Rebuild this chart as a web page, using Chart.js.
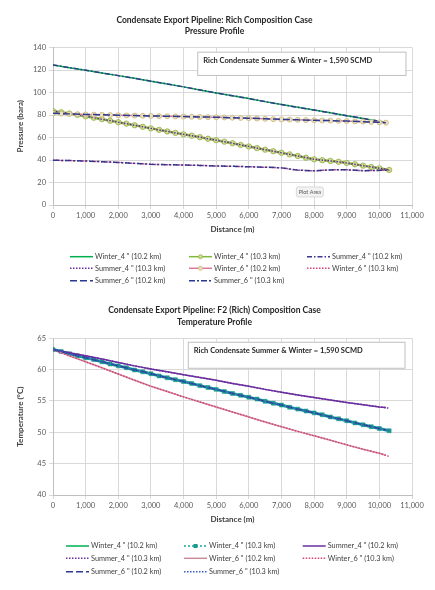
<!DOCTYPE html>
<html>
<head>
<meta charset="utf-8">
<script src="https://cdn.jsdelivr.net/npm/chart.js@4.4.1/dist/chart.umd.min.js"></script>
<style>
  html, body { margin: 0; padding: 0; background: #fff; }
  .box { position: relative; width: 435px; height: 295px; }
</style>
</head>
<body>
<div class="box"><canvas id="pressureChart"></canvas></div>
<div class="box"><canvas id="tempChart"></canvas></div>
<script>
// distances (m)
const d102 = [0, 500, 1000, 1500, 2000, 2500, 3000, 3500, 4000, 4500, 5000, 5500, 6000, 6500, 7000, 7500, 8000, 8500, 9000, 9500, 10000, 10200];
const d103 = [0, 500, 1000, 1500, 2000, 2500, 3000, 3500, 4000, 4500, 5000, 5500, 6000, 6500, 7000, 7500, 8000, 8500, 9000, 9500, 10000, 10300];
const d102f = [0, 250, 500, 750, 1000, 1250, 1500, 1750, 2000, 2250, 2500, 2750, 3000, 3250, 3500, 3750, 4000, 4250, 4500, 4750, 5000,
  5250, 5500, 5750, 6000, 6250, 6500, 6750, 7000, 7250, 7500, 7750, 8000, 8250, 8500, 8750, 9000, 9250, 9500, 9750, 10000, 10200];
const d103f = [0, 250, 500, 750, 1000, 1250, 1500, 1750, 2000, 2250, 2500, 2750, 3000, 3250, 3500, 3750, 4000, 4250, 4500, 4750, 5000,
  5250, 5500, 5750, 6000, 6250, 6500, 6750, 7000, 7250, 7500, 7750, 8000, 8250, 8500, 8750, 9000, 9250, 9500, 9750, 10000, 10300];

const seriesNames = ['Winter_4 " (10.2 km)', 'Winter_4 " (10.3 km)', 'Summer_4 " (10.2 km)',
  'Summer_4 " (10.3 km)', 'Winter_6 " (10.2 km)', 'Winter_6 " (10.3 km)',
  'Summer_6 " (10.2 km)', 'Summer_6 " (10.3 km)'];

// pressure (bara)
const pWinter4_102 = [124.5, 122.1, 119.8, 117.4, 115.0, 112.6, 110.1, 107.6, 105.0, 102.3, 99.6, 97.1, 94.6, 91.9, 89.3, 86.8, 84.4, 81.9, 79.4, 76.9, 74.4, 73.4];
const pWinter4_103 = [83.5, 82.4, 81.3, 80.1, 78.8, 77.6, 76.3, 74.9, 73.6, 72.3, 70.9, 69.5, 68.1, 66.8, 65.4, 64.1, 62.8, 61.6, 60.3, 58.9, 57.6,
  56.3, 54.9, 53.4, 52.0, 50.6, 49.2, 47.8, 46.4, 45.0, 43.6, 42.0, 40.6, 39.8, 39.2, 38.4, 37.4, 36.2, 35.0, 33.8, 32.6, 31.2];
const pSummer4_102 = [124.5, 122.1, 119.8, 117.4, 115.0, 112.6, 110.1, 107.6, 105.0, 102.3, 99.6, 97.1, 94.6, 91.9, 89.3, 86.8, 84.4, 81.9, 79.4, 76.9, 74.4, 73.4];
const pSummer4_103 = [83.5, 81.3, 78.8, 76.3, 73.6, 70.9, 68.1, 65.4, 62.8, 60.3, 57.6, 54.9, 52.0, 49.2, 46.4, 43.6, 40.6, 39.2, 37.4, 35.0, 32.6, 31.2];
const pWinter6_102 = [81.5, 81.2, 81.0, 80.7, 80.5, 80.3, 80.2, 80.0, 79.8, 79.6, 79.5, 79.3, 79.2, 79.0, 78.9, 78.7, 78.6, 78.4, 78.3, 78.1, 78.0,
  77.8, 77.6, 77.4, 77.2, 76.9, 76.6, 76.3, 76.1, 75.9, 75.7, 75.5, 75.3, 75.1, 75.0, 74.8, 74.6, 74.3, 74.1, 73.8, 73.5, 73.2];
const pWinter6_103 = [39.8, 39.5, 39.1, 38.5, 37.8, 37.0, 36.2, 35.8, 35.6, 35.2, 34.7, 34.4, 34.0, 33.6, 33.0, 31.0, 30.4, 31.2, 31.3, 30.5, 30.8, 30.8];
const pSummer6_102 = [81.5, 81.0, 80.5, 80.2, 79.8, 79.5, 79.2, 78.9, 78.6, 78.3, 78.0, 77.6, 77.2, 76.6, 76.1, 75.7, 75.3, 75.0, 74.6, 74.1, 73.5, 73.2];
const pSummer6_103 = [39.8, 39.5, 39.1, 38.5, 37.8, 37.0, 36.2, 35.8, 35.6, 35.2, 34.7, 34.4, 34.0, 33.6, 33.0, 31.0, 30.4, 31.2, 31.3, 30.5, 30.8, 30.8];

// temperature (°C)
const tWinter4_102 = [63.2, 62.55, 61.9, 61.25, 60.6, 59.95, 59.35, 58.7, 58.1, 57.45, 56.85, 56.2, 55.6, 54.95, 54.35, 53.7, 53.1, 52.45, 51.85, 51.2, 50.6, 50.35];
const tWinter4_103 = [63.2, 62.9, 62.55, 62.2, 61.9, 61.6, 61.25, 60.9, 60.6, 60.3, 59.95, 59.65, 59.35, 59.0, 58.7, 58.4, 58.1, 57.8, 57.45, 57.15, 56.85,
  56.5, 56.2, 55.9, 55.6, 55.3, 54.95, 54.65, 54.35, 54.0, 53.7, 53.4, 53.1, 52.8, 52.45, 52.15, 51.85, 51.5, 51.2, 50.9, 50.6, 50.25];
const tSummer4_102 = [63.2, 62.7, 62.2, 61.7, 61.15, 60.6, 60.1, 59.65, 59.2, 58.75, 58.3, 57.8, 57.35, 56.85, 56.4, 55.95, 55.55, 55.15, 54.75, 54.4, 54.05, 53.95];
const tSummer4_103 = [63.2, 62.7, 62.2, 61.7, 61.15, 60.6, 60.1, 59.65, 59.2, 58.75, 58.3, 57.8, 57.35, 56.85, 56.4, 55.95, 55.55, 55.15, 54.75, 54.4, 54.05, 53.85];
const tWinter6_102 = [63.2, 62.2, 61.25, 60.3, 59.3, 58.3, 57.35, 56.5, 55.65, 54.85, 54.05, 53.25, 52.45, 51.65, 50.9, 50.15, 49.45, 48.75, 48.0, 47.3, 46.65, 46.35];
const tWinter6_103 = [63.2, 62.2, 61.25, 60.3, 59.3, 58.3, 57.35, 56.5, 55.65, 54.85, 54.05, 53.25, 52.45, 51.65, 50.9, 50.15, 49.45, 48.75, 48.0, 47.3, 46.65, 46.15];
const tSummer6_102 = [63.2, 62.55, 61.9, 61.25, 60.6, 59.95, 59.35, 58.7, 58.1, 57.45, 56.85, 56.2, 55.6, 54.95, 54.35, 53.7, 53.1, 52.45, 51.85, 51.2, 50.6, 50.35];
const tSummer6_103 = [63.2, 62.55, 61.9, 61.25, 60.6, 59.95, 59.35, 58.7, 58.1, 57.45, 56.85, 56.2, 55.6, 54.95, 54.35, 53.7, 53.1, 52.45, 51.85, 51.2, 50.6, 50.25];

const noteText = "Rich Condensate Summer & Winter = 1,590 SCMD";

Chart.defaults.font.family = "Lato, 'Open Sans', sans-serif";

function pts(xs, ys) {
  return xs.map((x, i) => ({ x: x, y: ys[i] }));
}

// draws titles, note box, legend and the white background
const decoPlugin = {
  id: "deco",
  beforeDraw(chart) {
    const ctx = chart.ctx;
    ctx.save();
    ctx.fillStyle = "#fff";
    ctx.fillRect(0, 0, chart.width, chart.height);
    ctx.restore();
  },
  afterDraw(chart, args, opts) {
    const ctx = chart.ctx;
    const xs = chart.scales.x, ys = chart.scales.y;
    ctx.save();

    ctx.fillStyle = "#262626";
    ctx.font = "bold 8.5px Lato";
    ctx.textAlign = "center";
    ctx.textBaseline = "middle";
    opts.titles.forEach((t, i) => ctx.fillText(t, chart.width / 2 - 3, opts.titleY[i]));

    // note box
    const bx0 = xs.getPixelForValue(opts.box[0]), bx1 = xs.getPixelForValue(opts.box[1]);
    const by0 = ys.getPixelForValue(opts.box[2]), by1 = ys.getPixelForValue(opts.box[3]);
    ctx.fillStyle = "#fff";
    ctx.fillRect(bx0, by0, bx1 - bx0, by1 - by0);
    ctx.strokeStyle = "#bfbfbf";
    ctx.lineWidth = 1;
    ctx.strokeRect(bx0 + 0.5, by0 + 0.5, bx1 - bx0, by1 - by0);
    ctx.fillStyle = "#262626";
    ctx.font = "bold 7.5px Lato";
    ctx.textAlign = "left";
    ctx.fillText(noteText, bx0 + 6, by0 + 8.5);

    // "Plot Area" tag
    if (opts.tag) {
      const tx = xs.getPixelForValue(opts.tag[0]), ty = ys.getPixelForValue(opts.tag[1]);
      ctx.fillStyle = "#f2f2f2";
      ctx.strokeStyle = "#d9d9d9";
      ctx.beginPath();
      ctx.roundRect(tx - 13.5, ty - 5, 27, 10, 2);
      ctx.fill();
      ctx.stroke();
      ctx.fillStyle = "#595959";
      ctx.font = "5.5px Lato";
      ctx.textAlign = "center";
      ctx.fillText("Plot Area", tx, ty);
    }

    // legend, 3 columns
    chart.data.datasets.forEach((ds, i) => {
      const x0 = opts.legendX[i % 3];
      const y = chart.chartArea.bottom + opts.legendY[Math.floor(i / 3)];
      ctx.strokeStyle = ds.borderColor;
      ctx.lineWidth = 1.5;
      ctx.setLineDash(ds.legendDash || ds.borderDash || []);
      ctx.beginPath();
      ctx.moveTo(x0, y);
      ctx.lineTo(x0 + 23, y);
      ctx.stroke();
      ctx.setLineDash([]);
      if (ds.pointRadius > 0) {
        ctx.fillStyle = ds.pointBackgroundColor;
        ctx.strokeStyle = ds.pointBorderColor;
        ctx.lineWidth = 0.8;
        const r = 2;
        if (ds.pointStyle === "rect") {
          ctx.fillRect(x0 + 11.5 - r, y - r, 2 * r, 2 * r);
        } else {
          ctx.beginPath();
          ctx.arc(x0 + 11.5, y, r, 0, Math.PI * 2);
          ctx.fill();
          ctx.stroke();
        }
      }
      ctx.fillStyle = "#404040";
      ctx.font = "7.3px Lato";
      ctx.textAlign = "left";
      ctx.fillText(ds.label, x0 + 25, y);
    });
    ctx.restore();
  }
};

function makeChart(id, datasets, cfg) {
  // later series sit on top, like the source
  datasets.forEach((ds, i) => {
    ds.order = datasets.length - i;
    if (ds.pointRadius === undefined) ds.pointRadius = 0;
    if (ds.borderWidth === undefined) ds.borderWidth = 1.5;
    ds.fill = false;
    ds.tension = 0;
  });
  return new Chart(document.getElementById(id), {
    type: "line",
    data: { datasets: datasets },
    plugins: [decoPlugin],
    options: {
      responsive: true,
      maintainAspectRatio: false,
      animation: false,
      layout: { padding: { top: cfg.padTop, right: 23, bottom: cfg.padBottom, left: 0 } },
      scales: {
        x: {
          type: "linear",
          min: 0,
          max: 11000,
          afterFit: s => { s.height = 33; },
          ticks: {
            stepSize: 1000,
            color: "#595959",
            font: { size: 7.5 },
            padding: 2,
            maxRotation: 0,
            callback: v => v.toLocaleString("en-US")
          },
          grid: { color: "#d9d9d9", tickLength: 4 },
          border: { color: "#bfbfbf" },
          title: { display: true, text: "Distance (m)", color: "#404040", font: { size: 8, weight: "bold" } }
        },
        y: {
          min: cfg.yMin,
          max: cfg.yMax,
          afterFit: s => { s.width = 53; },
          ticks: { stepSize: cfg.yStep, color: "#595959", font: { size: 7.5 }, padding: 3 },
          grid: { color: "#d9d9d9", tickLength: 4 },
          border: { color: "#bfbfbf" },
          title: { display: true, text: cfg.yTitle, color: "#404040", font: { size: 8, weight: "bold" }, padding: { top: 16, bottom: 0 } }
        }
      },
      plugins: {
        legend: { display: false },
        tooltip: { enabled: false },
        deco: cfg.deco
      }
    }
  });
}

const green = "#00b050", navy = "#2b3990", purple = "#6a2d9f", pink = "#d9789b", pinkDot = "#d8407a";

makeChart("pressureChart", [
  { label: seriesNames[0], data: pts(d102, pWinter4_102), borderColor: green },
  { label: seriesNames[1], data: pts(d103f, pWinter4_103), borderColor: "#7fba3c", borderWidth: 2.5, pointRadius: 2.7, pointStyle: "circle",
    pointBackgroundColor: "#d3dc8c", pointBorderColor: "#8fb34a", pointBorderWidth: 0.8 },
  { label: seriesNames[2], data: pts(d102, pSummer4_102), borderColor: "#3c3590", borderDash: [5, 2, 1.5, 2] },
  { label: seriesNames[3], data: pts(d103, pSummer4_103), borderColor: purple, borderDash: [1.5, 1.5] },
  { label: seriesNames[4], data: pts(d102f, pWinter6_102), borderColor: pink, pointRadius: 2.5, pointStyle: "circle",
    pointBackgroundColor: "#ece2bd", pointBorderColor: "#c9b577", pointBorderWidth: 0.8 },
  { label: seriesNames[5], data: pts(d103, pWinter6_103), borderColor: pinkDot, borderDash: [1.5, 1.5] },
  { label: seriesNames[6], data: pts(d102, pSummer6_102), borderColor: navy, borderDash: [7, 3] },
  { label: seriesNames[7], data: pts(d103, pSummer6_103), borderColor: navy, borderDash: [6, 2, 2, 2] }
], {
  padTop: 47.5, padBottom: 57, yMin: 0, yMax: 140, yStep: 20, yTitle: "Pressure (bara)",
  deco: {
    titles: ["Condensate Export Pipeline: Rich Composition Case", "Pressure Profile"],
    titleY: [20, 31.5],
    box: [4420, 10800, 136.3, 115.6],
    tag: [7870, 11.6],
    legendX: [70, 189, 307],
    legendY: [51.7, 63.3, 75.7]
  }
});

makeChart("tempChart", [
  { label: seriesNames[0], data: pts(d102, tWinter4_102), borderColor: green },
  { label: seriesNames[1], data: pts(d103f, tWinter4_103), borderColor: "#1aa39a", borderWidth: 3, legendDash: [2, 2],
    pointRadius: 2.8, pointStyle: "rect", pointBackgroundColor: "#17998f", pointBorderColor: "#17998f", pointBorderWidth: 0.5 },
  { label: seriesNames[2], data: pts(d102, tSummer4_102), borderColor: purple },
  { label: seriesNames[3], data: pts(d103, tSummer4_103), borderColor: purple, borderDash: [1.5, 1.5] },
  { label: seriesNames[4], data: pts(d102, tWinter6_102), borderColor: "#c98b9b" },
  { label: seriesNames[5], data: pts(d103, tWinter6_103), borderColor: pinkDot, borderDash: [1.5, 1.5] },
  { label: seriesNames[6], data: pts(d102, tSummer6_102), borderColor: navy, borderDash: [7, 3] },
  { label: seriesNames[7], data: pts(d103, tSummer6_103), borderColor: "#3a5bbf", borderDash: [1.5, 1.5] }
], {
  padTop: 43.3, padBottom: 62, yMin: 40, yMax: 65, yStep: 5, yTitle: "Temperature (°C)",
  deco: {
    titles: ["Condensate Export Pipeline: F2 (Rich) Composition Case", "Temperature Profile"],
    titleY: [15, 27],
    box: [4130, 10770, 64.45, 60.3],
    tag: null,
    legendX: [66, 184, 302.7],
    legendY: [51, 63.3, 76.7]
  }
});
</script>
</body>
</html>
